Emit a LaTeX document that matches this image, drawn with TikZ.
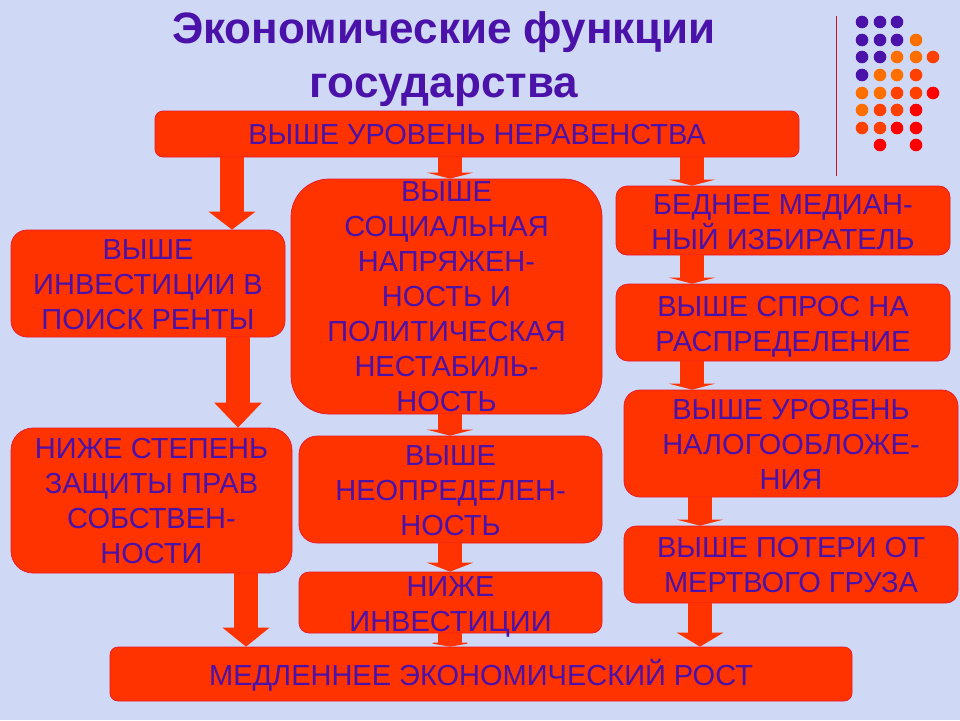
\documentclass[tikz,border=0pt]{standalone}
\usepackage{fontspec}
\setmainfont{Liberation Sans}
\usetikzlibrary{arrows.meta}
\definecolor{bgblue}{HTML}{CFD8F5}
\definecolor{boxred}{HTML}{FF3300}
\definecolor{edgered}{HTML}{E8182A}
\definecolor{inkviolet}{HTML}{4A12A8}
\definecolor{dotorange}{HTML}{FF6F00}
\definecolor{dotdark}{HTML}{FF4000}
\definecolor{dotred}{HTML}{FF0000}
\tikzstyle{block}=[rectangle, inner sep=0pt, draw=edgered, line width=0.7pt, fill=boxred]
\tikzstyle{lbl}=[inner sep=0pt, yshift=-1pt, align=center, text=inkviolet, font=\fontsize{29}{35}\selectfont]
\tikzstyle{headline}=[inner sep=0pt, align=center, text=inkviolet, font=\fontsize{44}{54}\selectfont\bfseries]
\tikzstyle{flow}=[line width=24pt, draw=boxred]
\tikzset{tip/.style={-{Triangle[width=46pt,length=#1pt]}}}

\begin{document}
\begin{tikzpicture}[x=1pt,y=-1pt]
	\fill[bgblue] (0,0) rectangle (960,720);
	\useasboundingbox (0,0) rectangle (960,720);

	%The title
	\draw (444,59) node[headline] (title) {Экономические функции\\государства};

	%The corner dots
	\draw[edgered!85!black, line width=1pt] (836.5,16) -- (836.5,176);
	\foreach \px/\py/\dotcol in {
		862/22/inkviolet, 880/22/inkviolet, 897/22/inkviolet,
		862/40/inkviolet, 880/40/inkviolet, 897/40/inkviolet, 916/40/dotorange,
		862/57/inkviolet, 880/57/inkviolet, 897/57/dotorange, 916/57/dotorange, 933/57/dotdark,
		862/75/inkviolet, 880/75/dotorange, 897/75/dotorange, 916/75/dotdark,
		862/93/dotorange, 880/93/dotorange, 897/93/dotdark, 916/93/dotdark, 933/93/dotred,
		862/110/dotorange, 880/110/dotdark, 897/110/dotdark, 916/110/dotred,
		862/128/dotdark, 880/128/dotdark, 897/128/dotred, 916/128/dotred,
		880/145/dotred, 916/145/dotred}
		\fill[\dotcol] (\px,\py) circle (6.3);

	%The top and bottom bars
	\draw (477,134) node[block, minimum width=644pt, minimum height=46pt, rounded corners=8pt,
		label={[lbl]center:ВЫШЕ УРОВЕНЬ НЕРАВЕНСТВА}] (top) {};
	\draw (481,674) node[block, minimum width=742pt, minimum height=54pt, rounded corners=8pt,
		label={[lbl]center:МЕДЛЕННЕЕ ЭКОНОМИЧЕСКИЙ РОСТ}] (growth) {};

	%The left column
	\draw (148,283.5) node[block, minimum width=274pt, minimum height=107pt, rounded corners=16pt,
		label={[lbl]center:ВЫШЕ\\ИНВЕСТИЦИИ В\\ПОИСК РЕНТЫ}] (rent) {};
	\draw (151.5,500.5) node[block, minimum width=281pt, minimum height=145pt, rounded corners=22pt,
		label={[lbl]center:НИЖЕ СТЕПЕНЬ\\ЗАЩИТЫ ПРАВ\\СОБСТВЕН-\\НОСТИ}] (rights) {};

	%The middle column
	\draw (446.5,296.5) node[block, minimum width=311pt, minimum height=235pt, rounded corners=38pt,
		label={[lbl, yshift=1pt]center:ВЫШЕ\\СОЦИАЛЬНАЯ\\НАПРЯЖЕН-\\НОСТЬ И\\ПОЛИТИЧЕСКАЯ\\НЕСТАБИЛЬ-\\НОСТЬ}] (social) {};
	\draw (450.5,489.5) node[block, minimum width=303pt, minimum height=107pt, rounded corners=18pt,
		label={[lbl]center:ВЫШЕ\\НЕОПРЕДЕЛЕН-\\НОСТЬ}] (uncert) {};
	\draw (450.5,602.5) node[block, minimum width=303pt, minimum height=61pt, rounded corners=10pt,
		label={[lbl, yshift=-3pt]center:НИЖЕ\\ИНВЕСТИЦИИ}] (invest) {};

	%The right column
	\draw (783,220.5) node[block, minimum width=334pt, minimum height=69pt, rounded corners=11pt,
		label={[lbl, yshift=-1pt]center:БЕДНЕЕ МЕДИАН-\\НЫЙ ИЗБИРАТЕЛЬ}] (voter) {};
	\draw (783,322.5) node[block, minimum width=334pt, minimum height=77pt, rounded corners=12pt,
		label={[lbl, yshift=-3pt]center:ВЫШЕ СПРОС НА\\РАСПРЕДЕЛЕНИЕ}] (demand) {};
	\draw (791,443.5) node[block, minimum width=334pt, minimum height=107pt, rounded corners=16pt,
		label={[lbl]center:ВЫШЕ УРОВЕНЬ\\НАЛОГООБЛОЖЕ-\\НИЯ}] (tax) {};
	\draw (791,564.5) node[block, minimum width=334pt, minimum height=77pt, rounded corners=12pt,
		label={[lbl]center:ВЫШЕ ПОТЕРИ ОТ\\МЕРТВОГО ГРУЗА}] (loss) {};

	%The arrows
	\foreach \src/\dst/\ax/\hd in {top/rent/232/18, rent/rights/238/25, rights/growth/246/19,
		top/social/450/6, social/uncert/450/6, uncert/invest/450/9, invest/growth/450/4,
		top/voter/692/6, voter/demand/692/6, demand/tax/692/6, tax/loss/700/6, loss/growth/700/14}
		\draw[flow, tip=\hd] (\src.south -| \ax,0) -- (\dst.north -| \ax,0);
\end{tikzpicture}
\end{document}
